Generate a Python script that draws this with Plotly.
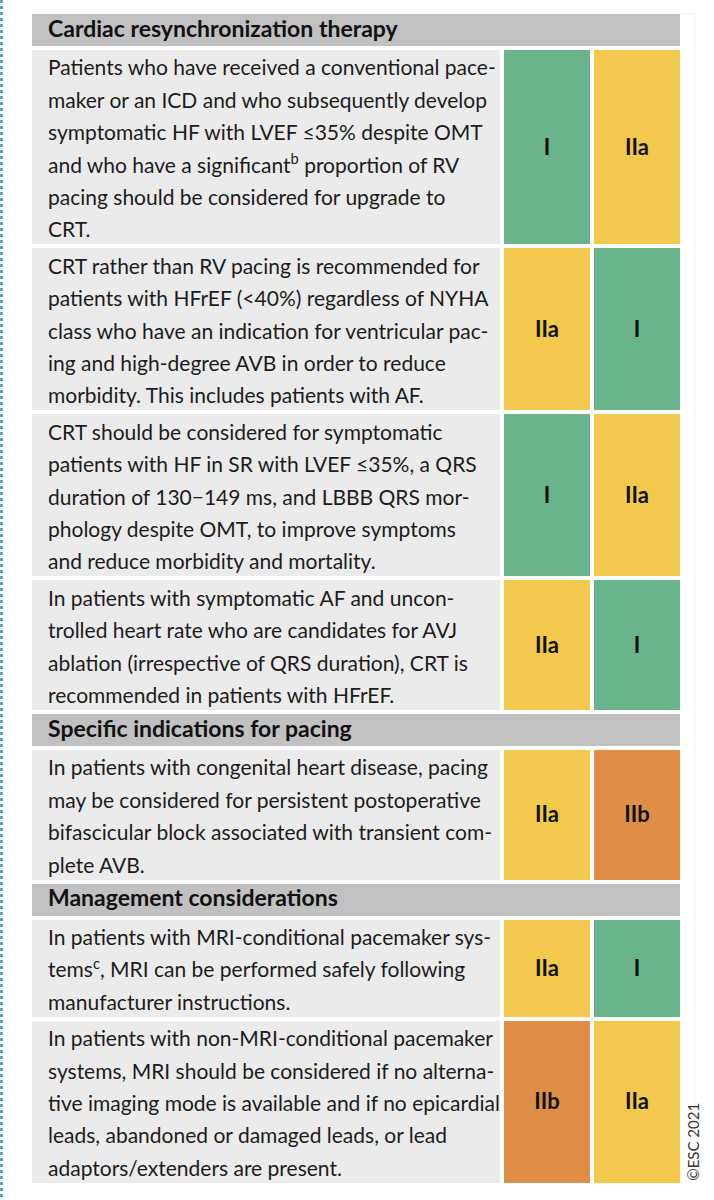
import plotly.graph_objects as go

# --- table content ---------------------------------------------------------
SECTIONS = [
    'Cardiac resynchronization therapy',
    'Specific indications for pacing',
    'Management considerations',
]
ROW_SECTION = [0, 0, 0, 0, 1, 2, 2]

REC_LINES = [
    ['Patients who have received a conventional pace-',
     'maker or an ICD and who subsequently develop',
     'symptomatic HF with LVEF ≤35% despite OMT',
     'and who have a significant<sup>b</sup> proportion of RV',
     'pacing should be considered for upgrade to',
     'CRT.'],
    ['CRT rather than RV pacing is recommended for',
     'patients with HFrEF (&lt;40%) regardless of NYHA',
     'class who have an indication for ventricular pac-',
     'ing and high-degree AVB in order to reduce',
     'morbidity. This includes patients with AF.'],
    ['CRT should be considered for symptomatic',
     'patients with HF in SR with LVEF ≤35%, a QRS',
     'duration of 130−149 ms, and LBBB QRS mor-',
     'phology despite OMT, to improve symptoms',
     'and reduce morbidity and mortality.'],
    ['In patients with symptomatic AF and uncon-',
     'trolled heart rate who are candidates for AVJ',
     'ablation (irrespective of QRS duration), CRT is',
     'recommended in patients with HFrEF.'],
    ['In patients with congenital heart disease, pacing',
     'may be considered for persistent postoperative',
     'bifascicular block associated with transient com-',
     'plete AVB.'],
    ['In patients with MRI-conditional pacemaker sys-',
     'tems<sup>c</sup>, MRI can be performed safely following',
     'manufacturer instructions.'],
    ['In patients with non-MRI-conditional pacemaker',
     'systems, MRI should be considered if no alterna-',
     'tive imaging mode is available and if no epicardial',
     'leads, abandoned or damaged leads, or lead',
     'adaptors/extenders are present.'],
]

CLASS_A = ['I', 'IIa', 'I', 'IIa', 'IIa', 'IIa', 'IIb']
CLASS_B = ['IIa', 'I', 'IIa', 'I', 'IIb', 'I', 'IIa']

CLASS_COLORS = {'I': '#6bb38a', 'IIa': '#f2c94c', 'IIb': '#de8e46'}
HEADER_BG = '#c1c1c1'
ROW_BG = '#ebebeb'
TEXT = '#1c1c1c'
FONT = 'Lato, "Open Sans", sans-serif'

# --- geometry (pixels, y grows downwards) ----------------------------------
W, H = 714, 1200
TOP = 14
HEADER_H = 32
LINE_H = 32.4
GAP = 4
TEXT_X0, TEXT_X1 = 32, 500
COL_A = (504, 590)
COL_B = (594, 680)
TEXT_PAD = 16

headers = []   # (top, title)
rows = []      # (top, height, idx)
y = TOP
prev_sec = None
for i, lines in enumerate(REC_LINES):
    sec = ROW_SECTION[i]
    if sec != prev_sec:
        headers.append((y, SECTIONS[sec]))
        y += HEADER_H + GAP
        prev_sec = sec
    h = len(lines) * LINE_H
    rows.append((y, h, i))
    y += h + GAP

fig = go.Figure()


def _bars(x0, x1, tops, heights, colors):
    fig.add_trace(go.Bar(
        x=[(x0 + x1) / 2] * len(tops), y=heights, base=tops,
        width=x1 - x0, marker=dict(color=colors, line_width=0),
        hoverinfo='skip', showlegend=False))


# section header bars
_bars(TEXT_X0, COL_B[1], [t for t, _ in headers], [HEADER_H] * len(headers),
      HEADER_BG)
# recommendation text cells
_bars(TEXT_X0, TEXT_X1, [r[0] for r in rows], [r[1] for r in rows], ROW_BG)
# class cells
_bars(COL_A[0], COL_A[1], [r[0] for r in rows], [r[1] for r in rows],
      [CLASS_COLORS[c] for c in CLASS_A])
_bars(COL_B[0], COL_B[1], [r[0] for r in rows], [r[1] for r in rows],
      [CLASS_COLORS[c] for c in CLASS_B])

# header text
fig.add_trace(go.Scatter(
    x=[TEXT_X0 + TEXT_PAD] * len(headers),
    y=[t + HEADER_H / 2 + 1 for t, _ in headers],
    text=[f'<b>{s}</b>' for _, s in headers],
    mode='text', textposition='middle right',
    textfont=dict(family=FONT, size=23, color='#111111', weight=800),
    hoverinfo='skip', showlegend=False))

# recommendation text, one entry per printed line
lx, ly, lt = [], [], []
for top, h, i in rows:
    for k, line in enumerate(REC_LINES[i]):
        lx.append(TEXT_X0 + TEXT_PAD)
        ly.append(top + LINE_H * (k + 0.5) + 4)
        lt.append(line)
fig.add_trace(go.Scatter(
    x=lx, y=ly, text=lt, mode='text', textposition='middle right',
    textfont=dict(family=FONT, size=21, color=TEXT),
    hoverinfo='skip', showlegend=False))

# class labels
for (x0, x1), classes in ((COL_A, CLASS_A), (COL_B, CLASS_B)):
    fig.add_trace(go.Scatter(
        x=[(x0 + x1) / 2] * len(rows),
        y=[top + h / 2 + 2 for top, h, _ in rows],
        text=[f'<b>{c}</b>' for c in classes],
        mode='text', textposition='middle center',
        textfont=dict(family=FONT, size=22, color='#111111', weight=900),
        hoverinfo='skip', showlegend=False))

# faint outer border on the right and the dotted page margin on the left
bottom = rows[-1][0] + rows[-1][1]
fig.add_shape(type='line', x0=695, x1=695, y0=TOP, y1=bottom,
              line=dict(color='#f0f0f0', width=1), layer='below')
fig.add_shape(type='line', x0=TEXT_X0, x1=695, y0=TOP, y1=TOP,
              line=dict(color='#f0f0f0', width=1), layer='below')
fig.add_shape(type='line', x0=1.5, x1=1.5, y0=0, y1=H,
              line=dict(color='#2a9ea3', width=2.5, dash='dot'))

fig.add_annotation(x=693, y=bottom, yanchor='bottom', xanchor='center',
                   text='©ESC 2021', textangle=-90, showarrow=False,
                   font=dict(family=FONT, size=15, color='#333333'))

fig.update_layout(
    width=W, height=H,
    margin=dict(l=0, r=0, t=0, b=0),
    paper_bgcolor='white', plot_bgcolor='white',
    barmode='overlay', bargap=0,
    xaxis=dict(range=[0, W], visible=False, fixedrange=True),
    yaxis=dict(range=[H, 0], visible=False, fixedrange=True),
)

# page body has a default 8px margin; drop it so the figure sits at 0,0
fig.write_html('out.html', config={'displayModeBar': False},
               post_script="document.body.style.margin='0';")
